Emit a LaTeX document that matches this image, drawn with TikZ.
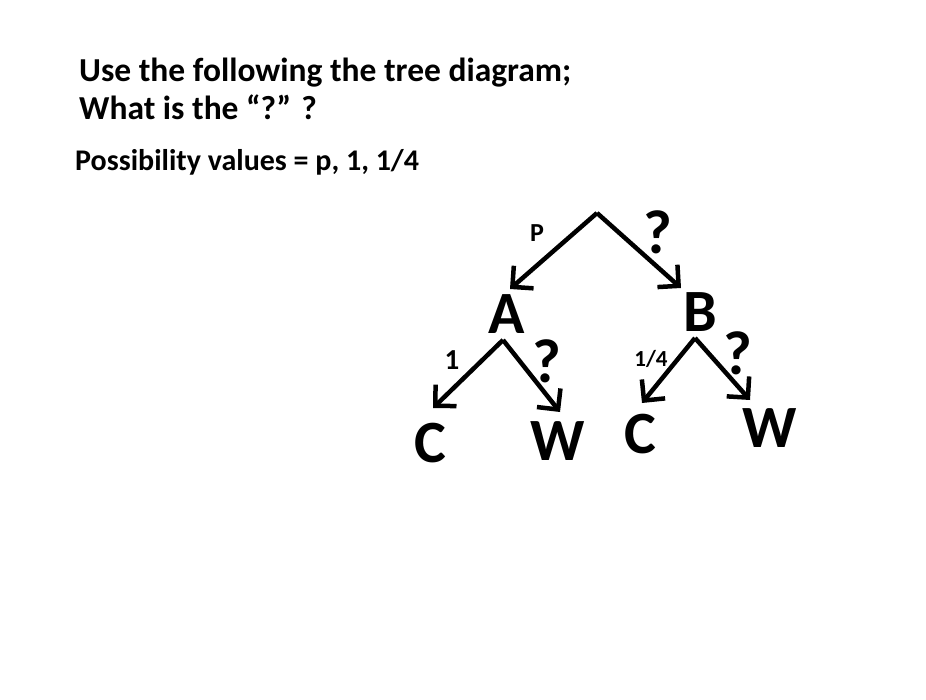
\documentclass[tikz,border=0pt]{standalone}
\usepackage{fontspec}
\setmainfont{Carlito}
\usetikzlibrary{arrows.meta}

\tikzset{
  branch/.style={line width=4.5pt, -{Straight Barb[length=15pt,width=30pt]}},
  letter/.style={font=\fontsize{60}{60}\selectfont\bfseries, inner sep=0pt},
  query/.style={font=\fontsize{62}{62}\selectfont\bfseries, inner sep=0pt},
  prob/.style={font=\fontsize{26}{26}\selectfont\bfseries, inner sep=0pt},
}

\begin{document}
\begin{tikzpicture}[x=1pt, y=-1pt]

  \useasboundingbox[fill=white] (0,0) rectangle (926,700);

  % question text
  \node[anchor=base west, inner sep=0pt, font=\fontsize{33.5}{40}\selectfont\bfseries] (line1) at (79,82) {Use the following the tree diagram;};
  \node[anchor=base west, inner sep=0pt, font=\fontsize{33.5}{40}\selectfont\bfseries] (line2) at (79,120) {What is the “?” ?};
  \node[anchor=base west, inner sep=0pt, font=\fontsize{30}{36}\selectfont\bfseries] (values) at (75,171) {Possibility values = p, 1, 1/4};

  % tree letters
  \node[letter] (A) at (507,314) {A};
  \node[letter] (B) at (700,312) {B};
  \node[letter] (CA) at (430,443) {C};
  \node[letter] (WA) at (558,441) {W};
  \node[letter] (CB) at (640,434) {C};
  \node[letter] (WB) at (770,428) {W};

  % branch ends
  \coordinate (root) at (597,213);
  \coordinate (rootA) at (510,289);
  \coordinate (rootB) at (681,288);
  \coordinate (topA) at (503,340);
  \coordinate (endCA) at (433,408);
  \coordinate (endWA) at (560,412);
  \coordinate (topB) at (695,338);
  \coordinate (endCB) at (642,403);
  \coordinate (endWB) at (750,400);

  \draw[branch] (root) -- (rootA);
  \draw[branch] (root) -- (rootB);
  \draw[branch] (topA) -- (endCA);
  \draw[branch] (topA) -- (endWA);
  \draw[branch] (topB) -- (endCB);
  \draw[branch] (topB) -- (endWB);

  % branch labels
  \node[prob] (pP) at (537,233) {P};
  \node[query] (qB) at (658,232) {?};
  \node[prob, font=\fontsize{29}{29}\selectfont\bfseries] (p1) at (452,360) {1};
  \node[prob, font=\fontsize{23}{23}\selectfont\bfseries] (pq) at (651,359) {1/4};
  \node[query] (qWA) at (547,361) {?};
  \node[query] (qWB) at (738,353) {?};

\end{tikzpicture}
\end{document}
